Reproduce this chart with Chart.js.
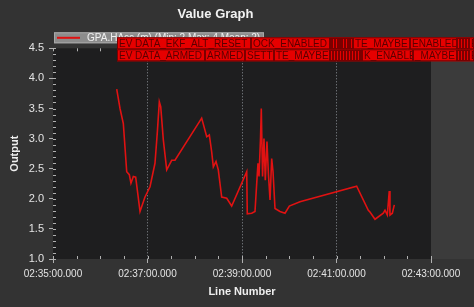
<!DOCTYPE html>
<html>
<head>
<meta charset="utf-8">
<script src="https://cdn.jsdelivr.net/npm/chart.js@4.4.0/dist/chart.umd.min.js"></script>
<style>
  html, body { margin: 0; padding: 0; background: #333333; }
  canvas { display: block; }
</style>
</head>
<body>
<canvas id="chart" width="474" height="307"></canvas>
<script>
const xTickLabels = ['02:35:00.000', '02:37:00.000', '02:39:00.000', '02:41:00.000', '02:43:00.000'];
const seriesLabel = 'GPA.HAcc (m) (Min: 2 Max: 4 Mean: 2)';

// seconds after 02:35:00
const hAccTimes = [80.9, 85.1, 89.3, 93.6, 96.9, 99.0, 102.0, 105.0, 110.5, 116.8,
  123.2, 129.5, 132.4, 135.0, 136.8, 140.1, 144.4, 150.7, 154.9, 188.8,
  195.2, 198.5, 201.5, 203.6, 207.0, 209.9, 214.2, 220.6, 226.9, 246.0,
  246.7, 252.3, 256.5, 258.7, 260.3, 261.6, 263.5, 264.5, 266.1, 267.9,
  269.6, 271.7, 273.6, 275.6, 277.7, 279.4, 281.9, 288.2, 294.6, 300.1,
  313.6, 385.6, 400.4, 402.5, 408.9, 419.4, 421.6, 424.5, 427.0, 427.9,
  430.9, 433.4];
const hAccValues = [3.82, 3.50, 3.25, 2.45, 2.40, 2.26, 2.37, 2.36, 1.79, 2.03,
  2.20, 2.59, 3.09, 3.61, 3.53, 2.98, 2.48, 2.64, 2.64, 3.34,
  3.03, 3.06, 2.78, 2.53, 2.62, 2.48, 2.03, 2.01, 1.88, 2.45,
  1.75, 1.76, 1.79, 2.26, 2.59, 2.37, 3.0, 3.50, 2.37, 3.0,
  2.31, 2.95, 2.40, 1.98, 2.67, 2.45, 1.84, 1.79, 1.76, 1.88,
  1.95, 2.21, 1.81, 1.78, 1.66, 1.76, 1.81, 1.73, 2.13, 1.73,
  1.76, 1.90];

// event markers, two rows, as they show in the picture
const eventRow1Times = [81.3, 251.4, 351.7, 354.9, 358.1, 361.3, 364.4, 367.6, 370.8, 374.0,
  377.1, 381.0, 453.3, 513.0, 516.8, 520.6, 524.4, 528.2];
const eventRow1Labels = ['EV DATA_EKF_ALT_RESET', 'OCK_ENABLED', 'EV', 'EV', 'EV', 'EV', 'EV', 'EV', 'EV', 'EV',
  'EV', 'TE_MAYBE', 'ENABLED', 'EV', 'EV', 'EV', 'EV', 'EV'];
const eventRow2Times = [81.3, 193.0, 243.8, 280.6, 351.7, 355.5, 359.4, 363.2, 367.0, 370.8,
  374.6, 378.4, 382.2, 386.0, 389.8, 392.4, 457.1, 513.0, 516.8, 520.6, 524.4, 528.2];
const eventRow2Labels = ['EV DATA_ARMED', 'ARMED', 'SETT', 'TE_MAYBE', 'EV', 'EV', 'EV', 'EV', 'EV', 'EV',
  'EV', 'EV', 'EV', 'EV', 'EV', 'K_ENABLED', '_MAYBE', 'EV', 'EV', 'EV', 'EV', 'EV'];

const FONT = "'Liberation Sans', Arial, sans-serif";
Chart.defaults.font.family = FONT;
Chart.defaults.color = '#e4e4e4';

const isMajorX = (v) => Math.abs(v % 120) < 1e-6;
const isMajorY = (v) => Math.abs(v * 2 - Math.round(v * 2)) < 1e-6;

const backdrop = {
  id: 'backdrop',
  beforeDraw(chart) {
    const { ctx, chartArea: a, width, height } = chart;
    ctx.save();
    ctx.fillStyle = '#333333';
    ctx.fillRect(0, 0, width, height);
    ctx.fillStyle = '#3b3b3b';
    ctx.fillRect(a.right, a.top, width - a.right, a.bottom - a.top);
    ctx.fillStyle = '#1e1e1f';
    ctx.fillRect(a.left, a.top, a.right - a.left, a.bottom - a.top);
    ctx.restore();
  },
};

// small tick marks drawn inside the plot edge
const innerTicks = {
  id: 'innerTicks',
  beforeDatasetsDraw(chart) {
    const { ctx, chartArea: a, scales } = chart;
    ctx.save();
    ctx.strokeStyle = '#b0b0b0';
    ctx.lineWidth = 1;
    ctx.beginPath();
    scales.x.ticks.forEach((t) => {
      const x = Math.round(scales.x.getPixelForValue(t.value)) + 0.5;
      ctx.moveTo(x, a.bottom);
      ctx.lineTo(x, a.bottom - 3);
      ctx.moveTo(x, a.top);
      ctx.lineTo(x, a.top + 3);
    });
    scales.y.ticks.forEach((t) => {
      const y = Math.round(scales.y.getPixelForValue(t.value)) + 0.5;
      ctx.moveTo(a.left, y);
      ctx.lineTo(a.left + 3, y);
    });
    ctx.stroke();
    ctx.restore();
  },
};

const drawEventRow = (ctx, xScale, times, labels, y, h, rightEdge) => {
  times.forEach((t, i) => {
    const x0 = Math.round(xScale.getPixelForValue(t));
    const x1 = i + 1 < times.length ? Math.round(xScale.getPixelForValue(times[i + 1])) : rightEdge;
    ctx.save();
    ctx.fillStyle = '#e60000';
    ctx.fillRect(x0, y, x1 - x0, h);
    ctx.strokeStyle = '#7a0000';
    ctx.lineWidth = 1;
    ctx.strokeRect(x0 + 0.5, y + 0.5, x1 - x0 - 1, h - 1);
    ctx.beginPath();
    ctx.rect(x0 + 1, y, x1 - x0 - 2, h);
    ctx.clip();
    ctx.fillStyle = '#5a0000';
    ctx.font = `10px ${FONT}`;
    ctx.textBaseline = 'middle';
    ctx.fillText(labels[i], x0 + 2, y + h / 2 + 0.5);
    ctx.restore();
  });
};

const overlay = {
  id: 'overlay',
  afterDraw(chart) {
    const { ctx, chartArea: a, scales, width } = chart;
    // legend box
    ctx.save();
    ctx.font = `10px ${FONT}`;
    const label = chart.data.datasets[0].label;
    const lw = 210;
    const ly = a.top - 16;
    ctx.fillStyle = '#8c8c8c';
    ctx.fillRect(a.left + 1, ly, lw, 11);
    ctx.strokeStyle = '#a8a8a8';
    ctx.strokeRect(a.left + 1.5, ly + 0.5, lw - 1, 10);
    ctx.strokeStyle = '#e01010';
    ctx.lineWidth = 2;
    ctx.beginPath();
    ctx.moveTo(a.left + 4, ly + 5.5);
    ctx.lineTo(a.left + 27, ly + 5.5);
    ctx.stroke();
    ctx.fillStyle = '#f0f0f0';
    ctx.textBaseline = 'middle';
    ctx.fillText(label, a.left + 34, ly + 5.5);
    ctx.restore();

    drawEventRow(ctx, scales.x, eventRow1Times, eventRow1Labels, a.top - 11, 12, width);
    drawEventRow(ctx, scales.x, eventRow2Times, eventRow2Labels, a.top + 1, 12, width);
  },
};

new Chart(document.getElementById('chart'), {
  type: 'line',
  data: {
    datasets: [{
      label: seriesLabel,
      data: hAccTimes.map((t, i) => ({ x: t, y: hAccValues[i] })),
      borderColor: '#e01212',
      borderWidth: 1.6,
      pointRadius: 0,
      tension: 0,
      fill: false,
    }],
  },
  options: {
    responsive: false,
    devicePixelRatio: 1,
    animation: false,
    layout: { padding: { left: 0, right: 43, top: 0, bottom: 0 } },
    plugins: {
      legend: { display: false },
      tooltip: { enabled: false },
      title: {
        display: true,
        text: 'Value Graph',
        color: '#f2f2f2',
        font: { size: 13, weight: 'bold' },
        padding: { top: 7, bottom: 25.7 },
      },
    },
    scales: {
      x: {
        type: 'linear',
        min: 0,
        max: 480,
        afterFit: (scale) => { scale.height = 48; },
        ticks: {
          stepSize: 30,
          autoSkip: false,
          maxRotation: 0,
          padding: 5,
          font: { size: 10 },
          color: '#e4e4e4',
          callback: (v) => (isMajorX(v) ? xTickLabels[Math.round(v / 120)] : ''),
        },
        grid: {
          drawOnChartArea: true,
          drawTicks: true,
          tickLength: 4,
          lineWidth: 1,
          color: (c) => (c.tick && isMajorX(c.tick.value) && c.tick.value > 0 && c.tick.value < 480 ? '#8a8f96' : 'rgba(0,0,0,0)'),
          tickColor: (c) => (c.tick && isMajorX(c.tick.value) ? '#b0b0b0' : 'rgba(0,0,0,0)'),
        },
        border: { display: false, dash: [1, 2] },
        title: {
          display: true,
          text: 'Line Number',
          color: '#eeeeee',
          font: { size: 11, weight: 'bold' },
          padding: { top: 0, bottom: 8.5 },
        },
      },
      y: {
        type: 'linear',
        min: 1,
        max: 4.5,
        afterFit: (scale) => { scale.width = 53; },
        ticks: {
          stepSize: 0.1,
          autoSkip: false,
          padding: 5,
          font: { size: 11 },
          color: '#e4e4e4',
          callback: (v) => (isMajorY(v) ? Number(v).toFixed(1) : ''),
        },
        grid: {
          drawOnChartArea: false,
          drawTicks: true,
          tickLength: 4,
          tickColor: (c) => (c.tick && isMajorY(c.tick.value) ? '#b0b0b0' : 'rgba(0,0,0,0)'),
        },
        border: { display: false },
        title: {
          display: true,
          text: 'Output',
          color: '#eeeeee',
          font: { size: 11, weight: 'bold' },
          padding: { top: 8, bottom: 0 },
        },
      },
    },
  },
  plugins: [backdrop, innerTicks, overlay],
});
</script>
</body>
</html>
